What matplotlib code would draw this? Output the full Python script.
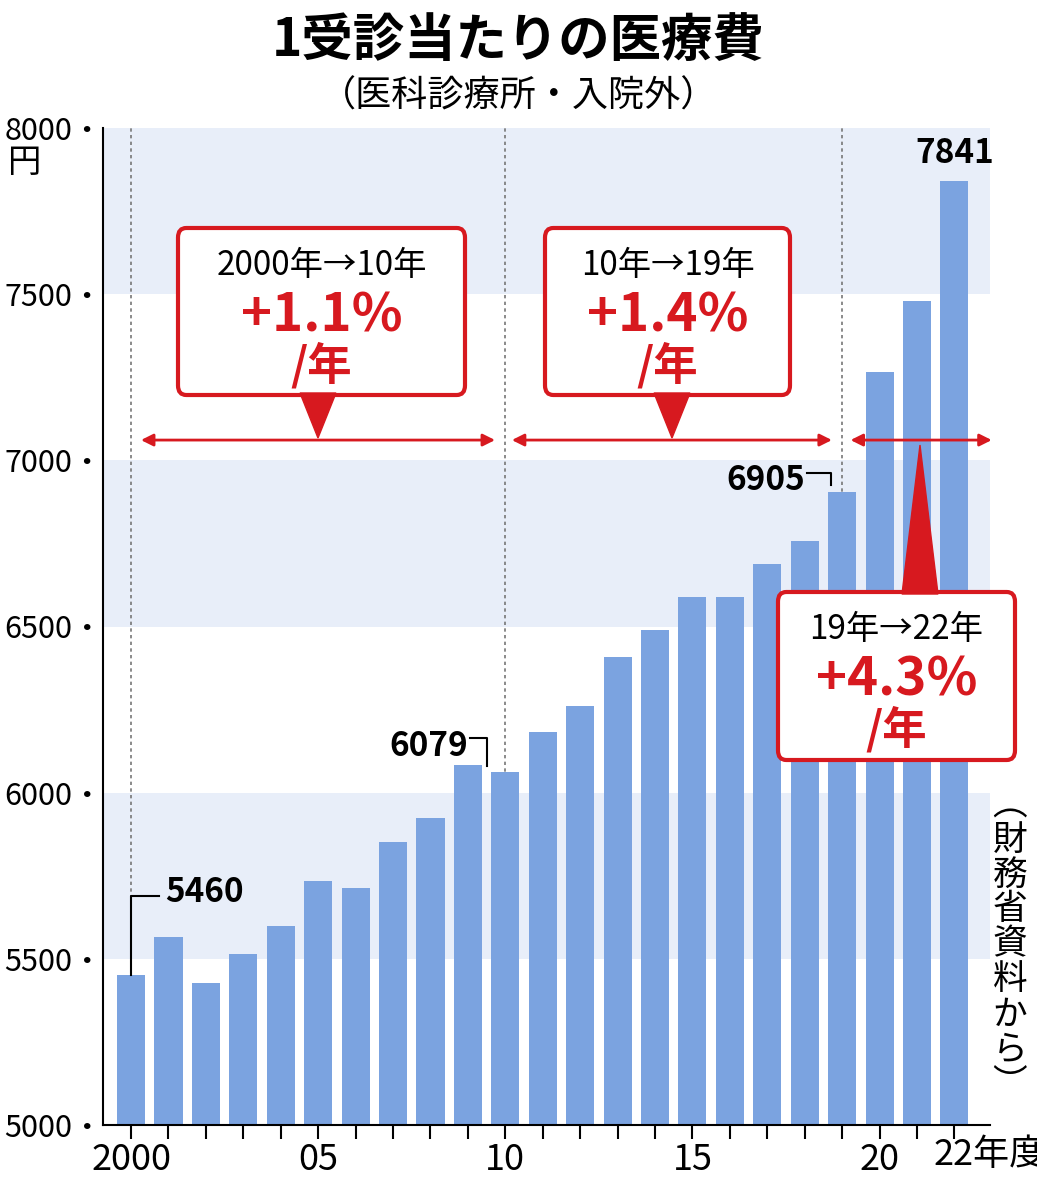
import matplotlib
matplotlib.use("Agg")
import matplotlib.pyplot as plt
import matplotlib.transforms as mtrans
from matplotlib.patches import FancyBboxPatch, Polygon

plt.rcParams['font.family'] = ['Noto Sans CJK JP', 'DejaVu Sans']

years = list(range(2000, 2023))
values = [5451, 5566, 5427, 5515, 5599, 5734, 5713, 5852, 5924, 6083, 6062,
          6183, 6261, 6408, 6490, 6589, 6589, 6688, 6757, 6905, 7266, 7479, 7841]
xtick_pos = [0, 5, 10, 15, 20, 22]
xtick_labels = ["2000", "05", "10", "15", "20", ""]
yticks = [5000, 5500, 6000, 6500, 7000, 7500, 8000]
boxes = [("2000年→10年", "+1.1%"), ("10年→19年", "+1.4%"), ("19年→22年", "+4.3%")]

BAR = "#7ba3e0"
BAND = "#e8eef9"
RED = "#d7191f"

W, H = 1037, 1200
fig = plt.figure(figsize=(W / 100, H / 100), dpi=100)
ax = fig.add_axes([103 / W, 1 - 1125 / H, 887 / W, 997 / H])
x = [y - 2000 for y in years]
ax.bar(x, values, width=0.75, color=BAR, zorder=2)
ax.set_xlim(-0.75, 22.95)
ax.set_ylim(5000, 8000)
for lo in (5500, 6500, 7500):
    ax.axhspan(lo, lo + 500, color=BAND, zorder=0, lw=0)
for xv in (0, 10, 19):
    ax.axvline(xv, color="#777", ls=(0, (2, 2)), lw=1.2, zorder=1)

for s in ("top", "right"):
    ax.spines[s].set_visible(False)
ax.spines["left"].set_linewidth(1.5)
ax.spines["bottom"].set_linewidth(1.5)
ax.set_xticks(xtick_pos, xtick_labels, fontsize=26)
ax.set_xticks(x, minor=True)
ax.tick_params(axis="x", which="both", length=10, width=1.5, pad=2)
trans = mtrans.blended_transform_factory(ax.transData, ax.transAxes)
ax.text(21.45, -0.012, "22年度", transform=trans, ha="left", va="top", fontsize=26)
ax.set_yticks(yticks, [f"{v}・" for v in yticks], fontsize=22)
ax.tick_params(axis="y", length=0, pad=0)
ax.text(-0.07, 0.983, "円", transform=ax.transAxes, ha="right", va="top", fontsize=24)

# arrows
ay = 7061
for x0, x1 in ((0.19, 9.8), (10.1, 18.8), (19.15, 23.07)):
    ax.annotate("", xy=(x1, ay), xytext=(x0, ay), annotation_clip=False,
                arrowprops=dict(arrowstyle="<|-|>", color=RED, lw=2, mutation_scale=18))

# value labels
ax.plot([0, 0, 0.75], [5451, 5690, 5690], color="black", lw=1.5, zorder=3)
ax.text(0.9, 5700, "5460", ha="left", va="center", fontsize=24, fontweight="bold")
ax.text(9.0, 6140, "6079", ha="right", va="center", fontsize=24, fontweight="bold")
ax.plot([9.05, 9.5, 9.5], [6165, 6165, 6080], color="black", lw=1.5, zorder=3)
ax.text(18.0, 6940, "6905", ha="right", va="center", fontsize=24, fontweight="bold")
ax.plot([18.05, 18.7, 18.7], [6962, 6962, 6925], color="black", lw=1.5, zorder=3)
ax.text(22.0, 7875, "7841", ha="center", va="bottom", fontsize=24, fontweight="bold")

# boxes (figure pixel coordinates)
def fx(px): return px / W
def fy(py): return 1 - py / H

def box(x0, y0, x1, y1, tip, tipdir, head, pct):
    fig.patches.append(FancyBboxPatch((fx(x0), fy(y1)), fx(x1 - x0), (y1 - y0) / H,
                       boxstyle="round,pad=0,rounding_size=0.008", transform=fig.transFigure,
                       fc="white", ec=RED, lw=3, zorder=5))
    cx = tip[0]
    if tipdir == "down":
        tri = [(fx(cx - 18), fy(y1 - 2)), (fx(cx + 18), fy(y1 - 2)), (fx(cx), fy(tip[1]))]
    else:
        tri = [(fx(cx - 18), fy(y0 + 2)), (fx(cx + 18), fy(y0 + 2)), (fx(cx), fy(tip[1]))]
    fig.patches.append(Polygon(tri, closed=True, transform=fig.transFigure, fc=RED, ec=RED, zorder=6))
    mx = (x0 + x1) / 2
    fig.text(fx(mx), fy(y0 + 38), head, ha="center", va="center", fontsize=24, zorder=7)
    fig.text(fx(mx), fy(y0 + 88), pct, ha="center", va="center", fontsize=38,
             fontweight="bold", color=RED, zorder=7)
    fig.text(fx(mx), fy(y0 + 138), "/年", ha="center", va="center", fontsize=32,
             fontweight="bold", color=RED, zorder=7)

box(178, 228, 465, 395, (318, 438), "down", *boxes[0])
box(545, 228, 790, 395, (672, 438), "down", *boxes[1])
box(778, 592, 1015, 760, (920, 445), "up", *boxes[2])

fig.text(0.5, fy(40), "1受診当たりの医療費", ha="center", va="center", fontsize=37, fontweight="bold")
fig.text(0.5, fy(97), "（医科診療所・入院外）", ha="center", va="center", fontsize=26)
fig.text(fx(1010), fy(945), "︵\n財\n務\n省\n資\n料\nか\nら\n︶", ha="center", va="center",
         fontsize=25, linespacing=1.0)

fig.savefig("out.png", dpi=100)
